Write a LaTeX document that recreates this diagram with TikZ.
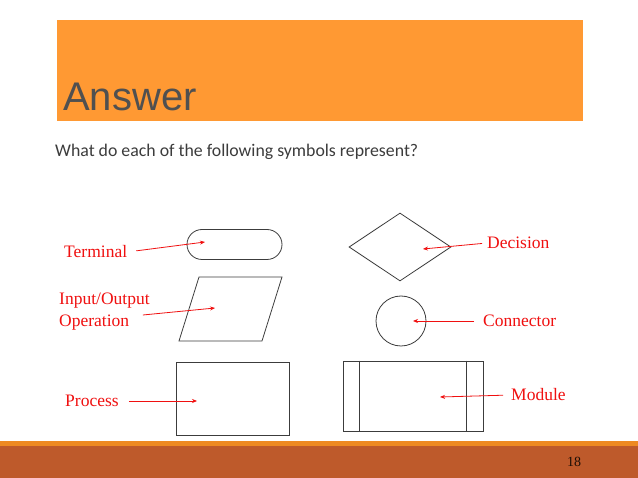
\documentclass[tikz,border=0pt]{standalone}
\usepackage{fontspec}
\setmainfont{Liberation Serif}
\newfontfamily\headfont{Liberation Sans}
\newfontfamily\bodyfont{Carlito}
\usetikzlibrary{shapes.geometric,shapes.misc,arrows.meta}
\definecolor{headorange}{HTML}{FF9933}
\definecolor{footline}{HTML}{EE8A22}
\definecolor{footbrown}{HTML}{BE5A2B}
\definecolor{shapegray}{HTML}{3C3C3C}
\definecolor{labelred}{HTML}{F01010}

\begin{document}
\begin{tikzpicture}[x=1pt,y=-1pt,
    symbol/.style = {draw=shapegray,
        line width=0.8pt,
        inner sep=0pt},
    symlabel/.style = {text=labelred,
        inner sep=0pt,
        font=\fontsize{17.5}{22}\selectfont},
    pointer/.style = {labelred,
        line width=0.8pt,
        -{Stealth[length=5pt,width=4pt]}}]

\useasboundingbox (0,0) rectangle (638,478);
\fill[white] (0,0) rectangle (638,478);

% Header
\node[fill=headorange,minimum width=526,minimum height=101,inner sep=0pt,anchor=north west] (head) at (57,20) {};
\node[anchor=base west,inner sep=0pt,text=shapegray!90,font=\headfont\fontsize{40}{40}\selectfont] (title) at (63,111) {Answer};
\node[anchor=base west,inner sep=0pt,text=shapegray,font=\bodyfont\fontsize{17.8}{20}\selectfont] (question) at (55,157) {What do each of the following symbols represent?};

% Footer
\fill[footline] (0,441) rectangle (638,446);
\fill[footbrown] (0,446) rectangle (638,478);
\node[text=black!85!footbrown,font=\fontsize{14}{14}\selectfont] (page) at (574,462) {18};

% Symbols
\node[symbol,rounded rectangle,minimum width=95,minimum height=30] (term) at (234.5,244.5) {};
\draw[symbol] (199,277) -- (282,277) -- (262,341) -- (179,341) -- cycle;
\node[symbol,rectangle,minimum width=113,minimum height=73] (proc) at (232.5,398.5) {};
\node[symbol,diamond,aspect=1.5,minimum width=102,minimum height=68] (dec) at (400,247) {};
\node[symbol,circle,minimum size=50] (conn) at (401,321) {};
\node[symbol,rectangle,minimum width=140,minimum height=70] (mod) at (413,396) {};
\draw[symbol] ([xshift=17pt]mod.north west) -- ([xshift=17pt]mod.south west);
\draw[symbol] ([xshift=-17pt]mod.north east) -- ([xshift=-17pt]mod.south east);

% Arrow tips
\coordinate (termtip) at (205,242);
\coordinate (iotip) at (215,308);
\coordinate (proctip) at (197,401);
\coordinate (dectip) at (423,249);
\coordinate (conntip) at (413,321);
\coordinate (modtip) at (440,397);

% Labels
\node[symlabel,anchor=west] (termlabel) at (64,252) {Terminal};
\node[symlabel,anchor=west,align=left] (iolabel) at (59,312) {Input/Output\\Operation};
\node[symlabel,anchor=west] (proclabel) at (65,401) {Process};
\node[symlabel,anchor=west] (declabel) at (487,243) {Decision};
\node[symlabel,anchor=west] (connlabel) at (483,321) {Connector};
\node[symlabel,anchor=west] (modlabel) at (511,395) {Module};

\draw[pointer,shorten <=9pt] (termlabel.east) -- (termtip);
\draw[pointer] ([shift={(-7,3)}]iolabel.east) -- (iotip);
\draw[pointer,shorten <=10pt] (proclabel.east) -- (proctip);
\draw[pointer,shorten <=5pt] (declabel.west) -- (dectip);
\draw[pointer,shorten <=9pt] (connlabel.west) -- (conntip);
\draw[pointer,shorten <=8pt] (modlabel.west) -- (modtip);

\end{tikzpicture}
\end{document}
